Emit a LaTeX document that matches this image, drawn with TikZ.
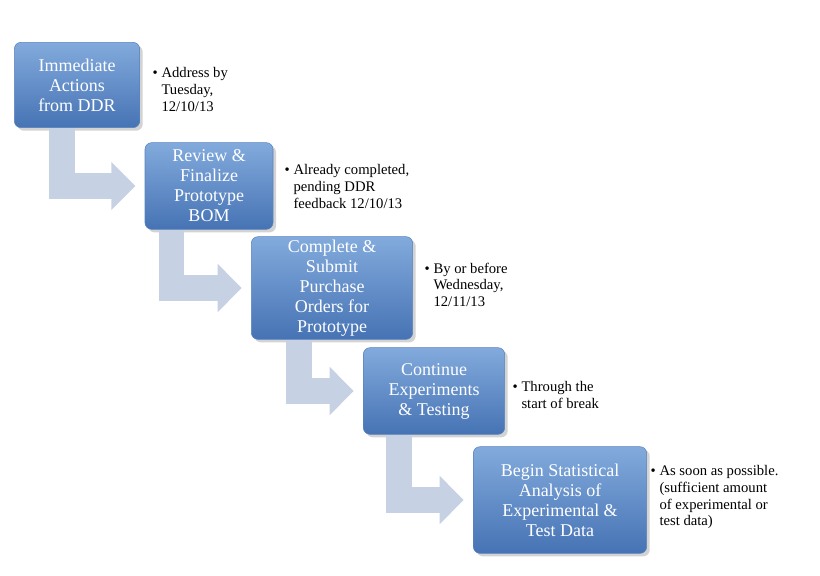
\documentclass[tikz,border=0pt]{standalone}
\usepackage{fontspec}
\setmainfont{Liberation Serif}
\usetikzlibrary{arrows.meta,shadows}
\definecolor{boxtop}{RGB}{130,170,220}
\definecolor{boxbot}{RGB}{70,115,180}
\definecolor{boxline}{RGB}{90,130,190}
\definecolor{elbowfill}{RGB}{198,210,228}

\begin{document}
\begin{tikzpicture}[x=0.75pt,y=-0.75pt]
        \tikzstyle{stage} = [rectangle, rounded corners=5pt, align=center, text=white, font=\fontsize{13.5}{15}\selectfont, inner sep=2pt, top color=boxtop, bottom color=boxbot, draw=boxline, drop shadow={opacity=0.35}]
        \tikzstyle{note} = [anchor=north west, align=left, font=\fontsize{11}{12.5}\selectfont]
        \tikzstyle{elbow} = [line width=19pt, draw=elbowfill, -{Triangle[length=18pt,width=35pt]}, shorten >=7pt]
        \useasboundingbox (0,0) rectangle (820,575);

        \node (actions) [stage, minimum width=94pt, minimum height=64pt] at (77,85) {Immediate\\Actions\\from DDR};
        \node (review) [stage, minimum width=96pt, minimum height=65pt] at (209,186) {Review \&\\Finalize\\Prototype\\BOM};
        \node (orders) [stage, minimum width=121pt, minimum height=77pt] at (332,288) {Complete \&\\Submit\\Purchase\\Orders for\\Prototype};
        \node (testing) [stage, minimum width=106pt, minimum height=65pt] at (434,391) {Continue\\Experiments\\\& Testing};
        \node (analysis) [stage, minimum width=130pt, minimum height=80pt] at (560,500) {Begin Statistical\\Analysis of\\Experimental \&\\Test Data};

        \node (noteA) [note] at (148,63) {\textbullet\ Address by\\\phantom{\textbullet\ }Tuesday,\\\phantom{\textbullet\ }12/10/13};
        \node (noteB) [note] at (280,160) {\textbullet\ Already completed,\\\phantom{\textbullet\ }pending DDR\\\phantom{\textbullet\ }feedback 12/10/13};
        \node (noteC) [note] at (420,258) {\textbullet\ By or before\\\phantom{\textbullet\ }Wednesday,\\\phantom{\textbullet\ }12/11/13};
        \node (noteD) [note] at (508,377) {\textbullet\ Through the\\\phantom{\textbullet\ }start of break};
        \node (noteE) [note] at (646,461) {\textbullet\ As soon as possible.\\\phantom{\textbullet\ }(sufficient amount\\\phantom{\textbullet\ }of experimental or\\\phantom{\textbullet\ }test data)};

        \draw [elbow] ([xshift=36pt]actions.south west) |- (review.west);
        \draw [elbow] ([xshift=20pt]review.south west) |- (orders.west);
        \draw [elbow] ([xshift=36pt]orders.south west) |- (testing.west);
        \draw [elbow] ([xshift=27pt]testing.south west) |- (analysis.west);
    \end{tikzpicture}
\end{document}
